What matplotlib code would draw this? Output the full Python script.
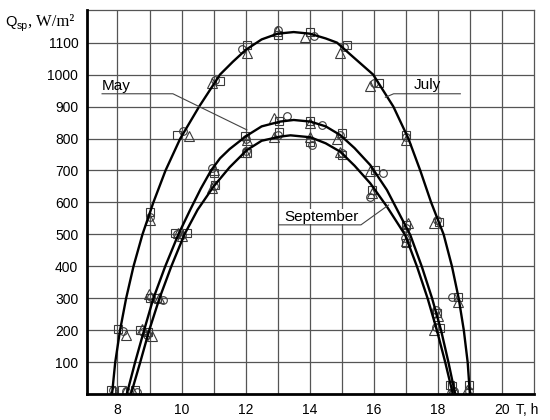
import matplotlib
matplotlib.use("Agg")
import matplotlib.pyplot as plt

# ---- fitted curves ----
july_x = [7.83, 7.93, 8.08, 8.27, 8.5, 8.78, 9.12, 9.5, 9.96, 10.55, 11.2, 11.6, 12.0, 12.5, 13.0, 13.5,
          14.0, 14.5, 14.85, 15.3, 15.98, 16.61, 17.08, 17.45, 17.79, 18.18, 18.44, 18.65, 18.81, 18.93, 19.0]
july_y = [0, 100, 200, 300, 400, 500, 600, 700, 800, 900, 1000, 1040, 1077, 1110, 1128, 1133,
          1128, 1113, 1100, 1060, 1000, 900, 800, 700, 600, 500, 400, 300, 200, 100, 0]

may_x = [8.29, 8.55, 8.83, 9.12, 9.49, 9.9, 10.27, 10.6, 10.92, 11.2, 11.5, 12.02, 12.5, 13.08, 13.5, 14.02, 14.5,
         14.95, 15.4, 15.89, 16.41, 17.14, 17.5, 17.82, 18.1, 18.33, 18.54]
may_y = [0, 100, 200, 300, 400, 500, 577, 643, 700, 738, 767, 808, 838, 853, 858, 853, 838,
         811, 770, 717, 639, 498, 399, 300, 200, 100, 0]

sep_x = [8.42, 8.71, 8.99, 9.31, 9.68, 10.09, 10.5, 11.0, 11.5, 12.04, 12.5, 13.08, 13.4, 14.02, 14.5,
         14.95, 15.4, 15.89, 16.41, 16.98, 17.35, 17.68, 17.97, 18.23, 18.47]
sep_y = [0, 100, 200, 300, 400, 500, 577, 650, 710, 764, 793, 806, 810, 804, 785,
         759, 715, 660, 587, 498, 399, 300, 200, 100, 0]

# ---- measured points (circle / square / triangle) ----
july_circ_x = [7.85, 8.17, 9.0, 10.04, 11.05, 11.88, 13.0, 14.12, 15.07, 16.0, 17.02, 17.97, 18.44, 18.98]
july_circ_y = [12, 199, 555, 824, 983, 1080, 1140, 1121, 1086, 973, 805, 545, 305, 10]
july_sq_x = [7.79, 8.03, 9.02, 9.85, 11.2, 12.04, 13.0, 14.01, 15.16, 16.15, 17.02, 18.02, 18.62, 18.98]
july_sq_y = [15, 203, 571, 811, 980, 1093, 1125, 1134, 1093, 973, 811, 540, 305, 29]
july_tri_x = [7.88, 8.27, 9.0, 10.22, 10.95, 12.04, 12.98, 13.86, 14.95, 15.89, 17.02, 17.87, 18.62, 18.91]
july_tri_y = [10, 186, 545, 808, 973, 1069, 1135, 1119, 1069, 965, 795, 535, 290, 13]

may_circ_x = [8.28, 8.8, 9.05, 9.85, 10.95, 12.0, 13.29, 14.38, 14.95, 16.28, 17.0, 17.95, 18.5]
may_circ_y = [10, 195, 305, 500, 707, 800, 869, 843, 810, 692, 520, 265, 10]
may_sq_x = [8.15, 8.71, 9.0, 9.8, 11.0, 11.99, 13.03, 14.02, 15.01, 16.05, 17.02, 17.97, 18.45]
may_sq_y = [12, 201, 302, 504, 693, 808, 855, 856, 817, 702, 530, 255, 25]
may_tri_x = [8.22, 8.76, 8.97, 9.9, 11.0, 12.05, 12.87, 14.0, 14.86, 15.89, 17.08, 18.0, 18.55]
may_tri_y = [8, 205, 314, 505, 700, 796, 863, 850, 798, 697, 535, 245, 8]

sep_circ_x = [8.6, 8.92, 9.42, 10.01, 11.0, 12.0, 13.0, 14.07, 15.0, 15.89, 16.97, 17.95, 18.42]
sep_circ_y = [8, 186, 295, 499, 650, 760, 810, 780, 755, 618, 490, 210, 5]
sep_sq_x = [8.55, 8.95, 9.23, 10.17, 11.05, 12.04, 13.03, 14.0, 15.01, 15.95, 16.99, 18.08, 18.38]
sep_sq_y = [14, 195, 302, 504, 655, 754, 819, 790, 749, 639, 472, 206, 28]
sep_tri_x = [8.5, 9.07, 9.3, 10.0, 10.95, 11.99, 12.9, 14.02, 14.95, 15.95, 17.0, 17.87, 18.45]
sep_tri_y = [8, 182, 300, 495, 645, 759, 804, 806, 759, 630, 480, 201, 10]

x_ticks = [8, 10, 12, 14, 16, 18, 20]
x_tick_labels = ["8", "10", "12", "14", "16", "18", "20"]
y_ticks = [100, 200, 300, 400, 500, 600, 700, 800, 900, 1000, 1100]

plt.rcParams['font.family'] = ['Liberation Sans', 'DejaVu Sans']

fig = plt.figure(figsize=(5.5, 4.2), dpi=100)
ax = fig.add_axes([86.7 / 550, 1 - 394.3 / 420, (534 - 86.7) / 550, (394.3 - 10) / 420])
ax.set_xlim(7.04, 21.0)
ax.set_ylim(0, 1202)

grid_col = '#555555'
for xv in range(8, 21):
    ax.axvline(xv, color=grid_col, lw=0.9, zorder=1)
for yv in y_ticks:
    ax.axhline(yv, color=grid_col, lw=0.9, zorder=1)

mcol = '#3a3a3a'
mk = dict(linestyle='none', markerfacecolor='none', markeredgecolor=mcol, markeredgewidth=0.8, zorder=3)
for cx, cy, sx, sy, tx, ty in [
    (july_circ_x, july_circ_y, july_sq_x, july_sq_y, july_tri_x, july_tri_y),
    (may_circ_x, may_circ_y, may_sq_x, may_sq_y, may_tri_x, may_tri_y),
    (sep_circ_x, sep_circ_y, sep_sq_x, sep_sq_y, sep_tri_x, sep_tri_y),
]:
    ax.plot(cx, cy, marker='o', markersize=5.5, **mk)
    ax.plot(sx, sy, marker='s', markersize=6.3, **mk)
    ax.plot(tx, ty, marker='^', markersize=7.0, **mk)

for cxs, cys in [(july_x, july_y), (may_x, may_y), (sep_x, sep_y)]:
    ax.plot(cxs, cys, color='black', lw=1.7, zorder=4, solid_joinstyle='round')

# leaders and labels
lead = dict(color='#444444', lw=0.8, zorder=5)
ax.plot([7.52, 9.73, 12.04], [940, 940, 827], **lead)
ax.text(7.52, 951, "May", fontsize=11, ha='left', va='baseline', zorder=6)
ax.plot([16.36, 16.62, 18.7], [929, 940, 940], **lead)
ax.text(17.26, 956, "July", fontsize=11, ha='left', va='baseline', zorder=6)
ax.plot([13.03, 15.6, 16.46], [530, 530, 592], **lead)
ax.text(13.22, 543, "September", fontsize=11, ha='left', va='baseline', zorder=6,
        bbox=dict(facecolor='white', edgecolor='none', pad=0.3))

ax.set_xticks(x_ticks)
ax.set_xticklabels(x_tick_labels, fontsize=10)
ax.set_yticks(y_ticks)
ax.set_yticklabels([str(v) for v in y_ticks], fontsize=10)
ax.tick_params(axis='both', length=0)
ax.tick_params(axis='x', pad=6)
ax.tick_params(axis='y', pad=6)
ax.text(20.45, -0.022, "T, h", transform=ax.get_xaxis_transform(), fontsize=10,
        ha='left', va='top')

for s in ['left', 'bottom']:
    ax.spines[s].set_linewidth(2.0)
    ax.spines[s].set_color('black')
    ax.spines[s].set_zorder(6)
for s in ['top', 'right']:
    ax.spines[s].set_linewidth(0.9)
    ax.spines[s].set_color(grid_col)

# axis title pieces
fig.text(5 / 550, 1 - 26 / 420, "Q", fontsize=10.5, ha='left', va='baseline')
fig.text(17 / 550, 1 - 29 / 420, "sp", fontsize=7.5, ha='left', va='baseline')
fig.text(28 / 550, 1 - 26 / 420, ", W/m\u00b2", fontsize=12, ha='left', va='baseline',
         family=['Liberation Serif', 'DejaVu Serif'])

fig.savefig("out.png", dpi=100)
